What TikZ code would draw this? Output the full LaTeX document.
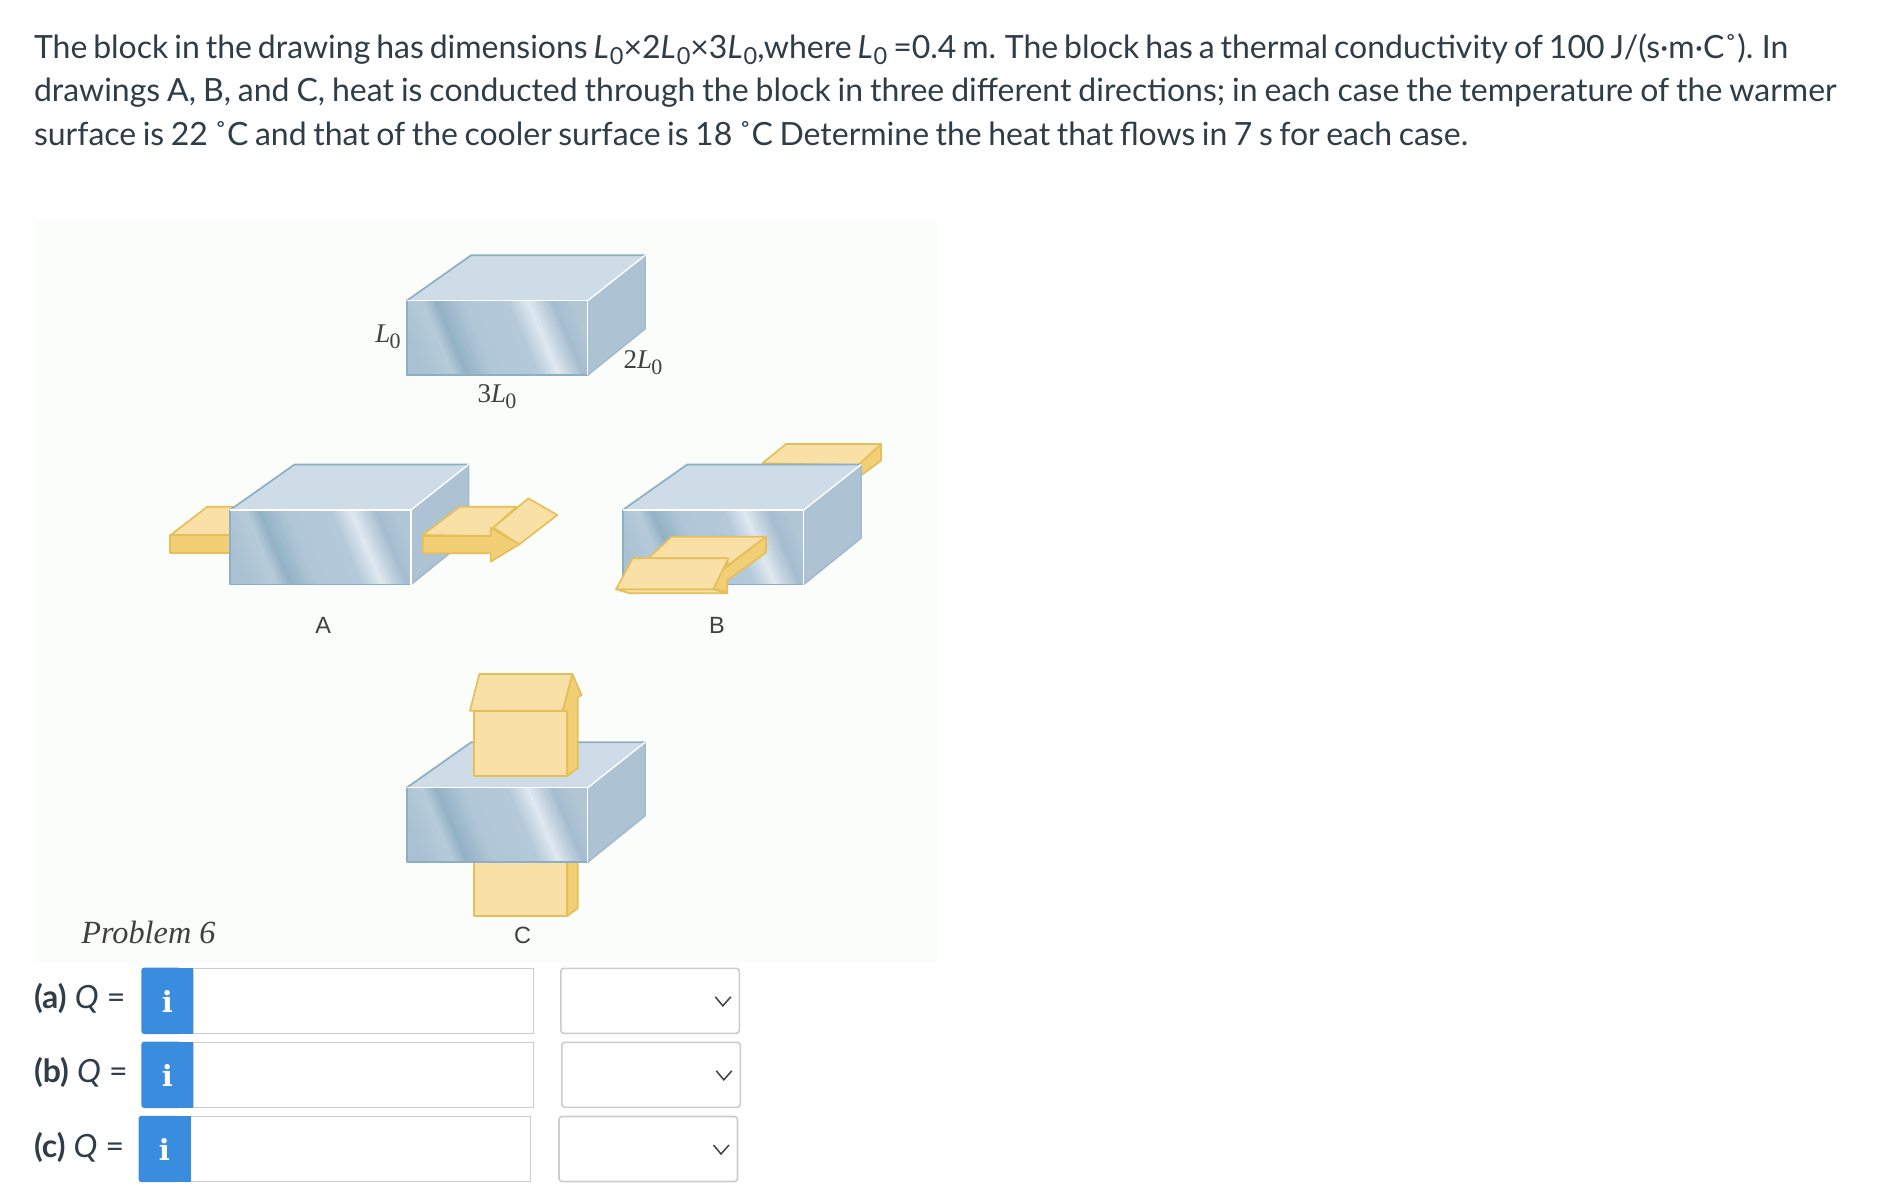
\documentclass[tikz,border=0pt]{standalone}
\usepackage{fontspec}
\setmainfont{Lato}
\newfontfamily\serifcap{Liberation Serif}
\newfontfamily\sanscap{Liberation Sans}
\newfontfamily\iconfont{DejaVu Serif}
\definecolor{inktext}{HTML}{2F3D47}
\definecolor{captext}{HTML}{404040}
\definecolor{panelbg}{HTML}{FBFDFB}
\definecolor{edgeblue}{HTML}{8EAEC4}
\definecolor{edgeside}{HTML}{A3BACB}
\definecolor{topface}{HTML}{CEDCE7}
\definecolor{sideface}{HTML}{ADC3D3}
\definecolor{gA}{HTML}{A9C1D2}
\definecolor{gB}{HTML}{B7CBDA}
\definecolor{gC}{HTML}{93B2C6}
\definecolor{gD}{HTML}{B1C7D7}
\definecolor{gE}{HTML}{B4C9D9}
\definecolor{gF}{HTML}{DFE8F0}
\definecolor{gG}{HTML}{A5BDCF}
\definecolor{gH}{HTML}{B2C7D6}
\definecolor{atop}{HTML}{F9E0A6}
\definecolor{aside}{HTML}{F2CE74}
\definecolor{aedge}{HTML}{E4C05C}
\definecolor{fieldedge}{HTML}{CCCCCC}
\definecolor{fieldblue}{HTML}{3A8DDE}
\newcommand{\Lz}{\textit{L}\kern.03em\raisebox{-.2em}{\fontsize{23.5}{23.5}\selectfont 0}}
\newcommand{\Lcap}{\textit{L}\kern-.02em\raisebox{-.22em}{\fontsize{22}{22}\selectfont 0}}
\newcommand{\gradseg}[4]{%
  \foreach \i in {0,...,7}{%
    \pgfmathsetmacro\pct{100*\i/8}%
    \pgfmathsetmacro\tpos{#1+(#2-#1)*\i/8}%
    \fill[#4!\pct!#3] (\tpos-16.5,-2) -- (\tpos+16.5,76.5) -- (220,76.5) -- (220,-2) -- cycle;
  }}
\newcommand{\blockat}[2]{%
  \begin{scope}[shift={(#1,#2)}]
    \fill[topface] (0,0) -- (64.5,-45.5) -- (238.5,-45.5) -- (181,0) -- cycle;
    \fill[sideface] (181,0) -- (238.5,-45.5) -- (238.5,28) -- (181,74.5) -- cycle;
    \begin{scope}
      \clip (0,0) rectangle (181,74.5);
      \fill[gA] (-1,-1) rectangle (182,76);
      \gradseg{0}{30}{gA}{gB}
      \gradseg{30}{44}{gB}{gC}
      \gradseg{44}{70}{gC}{gD}
      \gradseg{70}{115}{gD}{gE}
      \gradseg{115}{135}{gE}{gF}
      \gradseg{135}{160}{gF}{gG}
      \gradseg{160}{181}{gG}{gH}
    \end{scope}
    \draw[edgeblue,line width=1.7pt,line join=round] (0,0) -- (64.5,-45.5) -- (238.5,-45.5);
    \draw[edgeblue,line width=1.7pt,line join=round] (0,0) -- (0,74.5) -- (181,74.5);
    \draw[edgeside,line width=1.5pt,line join=round] (238.5,-45.5) -- (238.5,28) -- (181,74.5);
    \draw[white,line width=1.4pt,line join=round] (0,0) -- (181,0) -- (181,74.5);
    \draw[white,line width=1.4pt] (181,0) -- (238.5,-45.5);
  \end{scope}}
\tikzset{
  x=1pt,y=-1pt,
  para/.style={anchor=base west,inner sep=0pt,outer sep=0pt,text=inktext,font=\fontsize{32}{36}\selectfont},
  qlabel/.style={anchor=base west,inner sep=0pt,outer sep=0pt,text=inktext,font=\fontsize{32}{36}\selectfont},
  dimlabel/.style={anchor=base,inner sep=0pt,outer sep=0pt,text=captext,font=\serifcap\fontsize{27}{27}\selectfont},
  caplabel/.style={anchor=base,inner sep=0pt,outer sep=0pt,text=captext,font=\sanscap\fontsize{23.5}{23.5}\selectfont},
  problabel/.style={anchor=base west,inner sep=0pt,outer sep=0pt,text=captext,font=\serifcap\itshape\fontsize{32.3}{33}\selectfont},
  icon/.style={inner sep=0pt,outer sep=0pt,text=white,font=\iconfont\bfseries\fontsize{29}{29}\selectfont},
  atopf/.style={fill=atop,draw=aedge,line width=1.7pt,line join=round},
  asidef/.style={fill=aside,draw=aedge,line width=1.7pt,line join=round},
  zoomed/.style={x=.33333pt,y=-.33333pt},
  fieldbox/.style={fill=white,draw=fieldedge,line width=1.6pt},
  selbox/.style={fill=white,draw=fieldedge,line width=1.6pt,rounded corners=3pt},
  chev/.style={draw=captext,line width=1.5pt}
}
\newcommand{\answerrow}[6]{%
  % #1 blue left, #2 top, #3 input right, #4 select left, #5 row name, #6 label
  \node[qlabel] (lab#5) at (34,#2+40.5) {#6};
  \draw[fieldbox] (#1+52,#2) rectangle (#3,#2+65);
  \fill[fieldblue,rounded corners=3pt] (#1,#2-.7) rectangle (#1+40,#2+65.7);
  \fill[fieldblue] (#1+20,#2-.7) rectangle (#1+52,#2+65.7);
  \node[icon] (ic#5) at (#1+26,#2+33) {i};
  \draw[selbox] (#4,#2) rectangle (#4+178.5,#2+65);
  \coordinate (cha#5) at (#4+154.5,#2+28.5);
  \coordinate (chb#5) at (#4+162,#2+37.5);
  \coordinate (chc#5) at (#4+170,#2+28.5);
  \draw[chev] (cha#5) -- (chb#5) -- (chc#5);
}
\begin{document}
\begin{tikzpicture}
\useasboundingbox (0,0) rectangle (1884,1188);
\fill[white] (0,0) rectangle (1884,1188);
\fill[panelbg] (34,220) rectangle (938,963);

% text
\node[para] (line1) at (34,58.3) {\spaceskip=5.9pt The block in the drawing has dimensions \Lz{}×2\Lz{}×3\Lz{},where \Lz{} =0.4 m. The block has a thermal conductivity of 100 J/(s·m·C˚). In};
\node[para] (line2) at (34,102) {\spaceskip=6.93pt drawings A, B, and C, heat is conducted through the block in three different directions; in each case the temperature of the warmer};
\node[para] (line3) at (34,145.5) {\spaceskip=6.49pt surface is 22 ˚C and that of the cooler surface is 18 ˚C Determine the heat that flows in 7 s for each case.};

% reference block
\blockat{406.7}{300.7}
\node[dimlabel] (dimL) at (388,342.5) {\Lcap};
\node[dimlabel] (dimT) at (497,402.5) {3\Lcap};
\node[dimlabel] (dimD) at (643,368.8) {2\Lcap};

% block A
\begin{scope}[shift={(150,430)}]
\begin{scope}[zoomed]
  \path[atopf] (62,315) -- (172,230) -- (250,230) -- (250,315) -- cycle;
  \path[asidef] (60,315) -- (250,315) -- (250,370) -- (60,370) -- cycle;
\end{scope}
\end{scope}
\blockat{230}{510}
\begin{scope}[shift={(150,430)}]
\begin{scope}[zoomed]
  \path[atopf] (818,315) -- (930,230) -- (1100,230) -- (1030,293) -- (1022,318) -- cycle;
  \path[asidef] (818,318) -- (1022,318) -- (1022,293) -- (1108,343) -- (1022,395) -- (1022,370) -- (818,370) -- cycle;
  \path[atopf] (1030,293) -- (1135,205) -- (1222,255) -- (1108,343) -- cycle;
\end{scope}
\end{scope}
\node[caplabel] (capA) at (323.3,633) {A};

% block B
\begin{scope}[shift={(600,430)}]
\begin{scope}[zoomed]
  \path[asidef] (775,100) -- (843,42) -- (843,92) -- (785,135) -- cycle;
  \path[atopf] (487,100) -- (558,42) -- (843,42) -- (775,105) -- cycle;
\end{scope}
\end{scope}
\blockat{622.7}{510}
\begin{scope}[shift={(610,530)}]
\begin{scope}[zoomed]
  \path[atopf] (115,85) -- (185,20) -- (468,20) -- (355,105) -- (350,85) -- cycle;
  \path[asidef] (468,20) -- (468,68) -- (352,150) -- (352,187) -- (310,175) -- (352,88) -- (345,115) -- cycle;
  \path[atopf] (18,178) -- (60,190) -- (352,190) -- (310,178) -- cycle;
  \path[atopf] (18,178) -- (68,85) -- (355,85) -- (310,178) -- cycle;
\end{scope}
\end{scope}
\node[caplabel] (capB) at (717,633) {B};

% block C
\begin{scope}[shift={(390,660)}]
\begin{scope}[zoomed]
  \path[asidef] (532,600) -- (563,600) -- (563,745) -- (532,768) -- cycle;
  \path[atopf] (253,600) -- (532,600) -- (532,768) -- (253,768) -- cycle;
\end{scope}
\end{scope}
\blockat{406.7}{787.7}
\begin{scope}[shift={(390,660)}]
\begin{scope}[zoomed]
  \path[atopf] (253,152) -- (532,152) -- (532,347) -- (253,347) -- cycle;
  \path[asidef] (547,42) -- (575,105) -- (563,112) -- (563,325) -- (532,347) -- (532,152) -- (518,152) -- cycle;
  \path[atopf] (240,152) -- (268,42) -- (547,42) -- (518,152) -- cycle;
\end{scope}
\end{scope}
\node[caplabel] (capC) at (522.7,943) {C};
\node[problabel] (prob) at (81.3,943.5) {Problem 6};

% answer rows
\answerrow{141.3}{968.3}{533.5}{560.8}{a}{\textbf{(a)} \textit{Q} =}
\answerrow{141.3}{1042.3}{533.5}{561.8}{b}{\textbf{(b)} \textit{Q} =}
\answerrow{138.5}{1116.5}{530.6}{559}{c}{\textbf{(c)} \textit{Q} =}
\end{tikzpicture}
\end{document}
